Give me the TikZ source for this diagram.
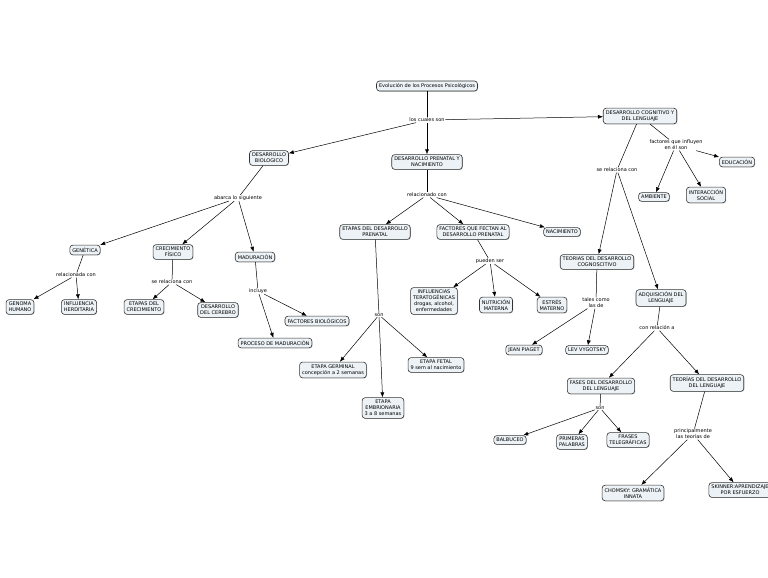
\documentclass[tikz,border=0pt]{standalone}
\usepackage{fontspec}
\setmainfont{DejaVu Sans}
\usetikzlibrary{arrows.meta,shadows}
\definecolor{cfill}{RGB}{236,242,246}
\tikzset{
 c/.style={draw=black!80,line width=0.6pt,rounded corners=3pt,fill=cfill,align=center,font=\fontsize{5}{6}\selectfont,inner sep=2.5pt,drop shadow={shadow xshift=0.6pt,shadow yshift=-0.6pt,opacity=0.5}},
 l/.style={fill=white,align=center,font=\fontsize{5}{6}\selectfont,inner sep=0.5pt},
 ar/.style={-{Latex[length=5pt,width=4pt]},line width=0.5pt},
 ln/.style={line width=0.5pt}
}
\begin{document}
\begin{tikzpicture}[x=1pt,y=-1pt]
\useasboundingbox (0,0) rectangle (768,578);
\node[c] (root) at (427,86) {Evolución de los Procesos Psicológicos};
\node[c] (db) at (269,158) {DESARROLLO\\BIOLOGICO};
\node[c] (dpn) at (427,162) {DESARROLLO PRENATAL Y\\NACIMIENTO};
\node[c] (dc) at (640,116) {DESARROLLO COGNITIVO Y\\DEL LENGUAJE};
\node[c] (edu) at (737,162) {EDUCACIÓN};
\node[c] (amb) at (654,197) {AMBIENTE};
\node[c] (int) at (706,195) {INTERACCIÓN\\SOCIAL};
\node[c] (edp) at (375,232) {ETAPAS DEL DESARROLLO\\PRENATAL};
\node[c] (fqf) at (473,232) {FACTORES QUE FECTAN AL\\DESARROLLO PRENATAL};
\node[c] (nac) at (562,232) {NACIMIENTO};
\node[c] (gen) at (85,250) {GENÉTICA};
\node[c] (cf) at (173,252) {CRECIMIENTO\\FÍSICO};
\node[c] (mad) at (255,257) {MADURACIÓN};
\node[c] (gh) at (20,307) {GENOMA\\HUMANO};
\node[c] (ih) at (79,307) {INFLUENCIA\\HERDITARIA};
\node[c] (ec) at (144,307) {ETAPAS DEL\\CRECIMIENTO};
\node[c] (dce) at (218,310) {DESARROLLO\\DEL CEREBRO};
\node[c] (fb) at (317,321) {FACTORES BIOLÓGICOS};
\node[c] (pm) at (275,343) {PROCESO DE MADURACIÓN};
\node[c] (infl) at (434,301) {INFLUENCIAS\\TERATOGÉNICAS\\drogas, alcohol,\\enfermedades};
\node[c] (nut) at (496,305) {NUTRICIÓN\\MATERNA};
\node[c] (est) at (552,305) {ESTRÉS\\MATERNO};
\node[c] (tdc) at (597,262) {TEORIAS DEL DESARROLLO\\COGNOSCITIVO};
\node[c] (adq) at (661,298) {ADQUISICIÓN DEL\\LENGUAJE};
\node[c] (jp) at (524,350) {JEAN PIAGET};
\node[c] (lv) at (587,350) {LEV VYGOTSKY};
\node[c] (eg) at (333,370) {ETAPA GERMINAL\\concepción a 2 semanas};
\node[c] (ef) at (436,365) {ETAPA FETAL\\9 sem al nacimiento};
\node[c] (ee) at (383,408) {ETAPA\\EMBRIONARIA\\3 a 8 semanas};
\node[c] (fdl) at (601,386) {FASES DEL DESARROLLO\\DEL LENGUAJE};
\node[c] (tdl) at (707,383) {TEORÍAS DEL DESARROLLO\\DEL LENGUAJE};
\node[c] (bal) at (510,440) {BALBUCEO};
\node[c] (pp) at (572,442) {PRIMERAS\\PALABRAS};
\node[c] (ft) at (628,440) {FRASES\\TELEGRÁFICAS};
\node[c] (ch) at (633,493) {CHOMSKY: GRAMÁTICA\\INNATA};
\node[c] (sk) at (740,490) {SKINNER:APRENDIZAJE\\POR ESFUERZO};
% labels
\node[l] (l1) at (427,120) {los cuales son};
\node[l] (l2) at (238,198) {abarca lo siguiente};
\node[l] (l3) at (76,275) {relacionada con};
\node[l] (l4) at (172,282) {se relaciona con};
\node[l] (l5) at (258,291) {incluye};
\node[l] (l6) at (427,195) {relacionado con};
\node[l] (l7) at (490,261) {pueden ser};
\node[l] (l8) at (379,315) {son};
\node[l] (l9) at (676,145) {factores que influyen\\en él son};
\node[l] (l10) at (617,170) {se relaciona con};
\node[l] (l11) at (596,303) {tales como\\las de};
\node[l] (l12) at (657,328) {con relación a};
\node[l] (l13) at (600,408) {son};
\node[l] (l14) at (693,434) {principalmente\\las teorías de};
% edges
\draw[ln] (root) -- (l1); \draw[ar] (l1) -- (db); \draw[ar] (l1) -- (dpn); \draw[ar] (l1) -- (dc);
\draw[ln] (db) -- (l2); \draw[ar] (l2) -- (gen); \draw[ar] (l2) -- (cf); \draw[ar] (l2) -- (mad);
\draw[ln] (gen) -- (l3); \draw[ar] (l3) -- (gh); \draw[ar] (l3) -- (ih);
\draw[ln] (cf) -- (l4); \draw[ar] (l4) -- (ec); \draw[ar] (l4) -- (dce);
\draw[ln] (mad) -- (l5); \draw[ar] (l5) -- (fb); \draw[ar] (l5) -- (pm);
\draw[ln] (dpn) -- (l6); \draw[ar] (l6) -- (edp); \draw[ar] (l6) -- (fqf); \draw[ar] (l6) -- (nac);
\draw[ln] (fqf) -- (l7); \draw[ar] (l7) -- (infl); \draw[ar] (l7) -- (nut); \draw[ar] (l7) -- (est);
\draw[ln] (edp) -- (l8); \draw[ar] (l8) -- (eg); \draw[ar] (l8) -- (ef); \draw[ar] (l8) -- (ee);
\draw[ln] (dc) -- (l9); \draw[ar] (l9) -- (edu); \draw[ar] (l9) -- (amb); \draw[ar] (l9) -- (int);
\draw[ln] (dc) -- (l10); \draw[ar] (l10) -- (tdc); \draw[ar] (l10) -- (adq);
\draw[ln] (tdc) -- (l11); \draw[ar] (l11) -- (jp); \draw[ar] (l11) -- (lv);
\draw[ln] (adq) -- (l12); \draw[ar] (l12) -- (fdl); \draw[ar] (l12) -- (tdl);
\draw[ln] (fdl) -- (l13); \draw[ar] (l13) -- (bal); \draw[ar] (l13) -- (pp); \draw[ar] (l13) -- (ft);
\draw[ln] (tdl) -- (l14); \draw[ar] (l14) -- (ch); \draw[ar] (l14) -- (sk);
\end{tikzpicture}
\end{document}
